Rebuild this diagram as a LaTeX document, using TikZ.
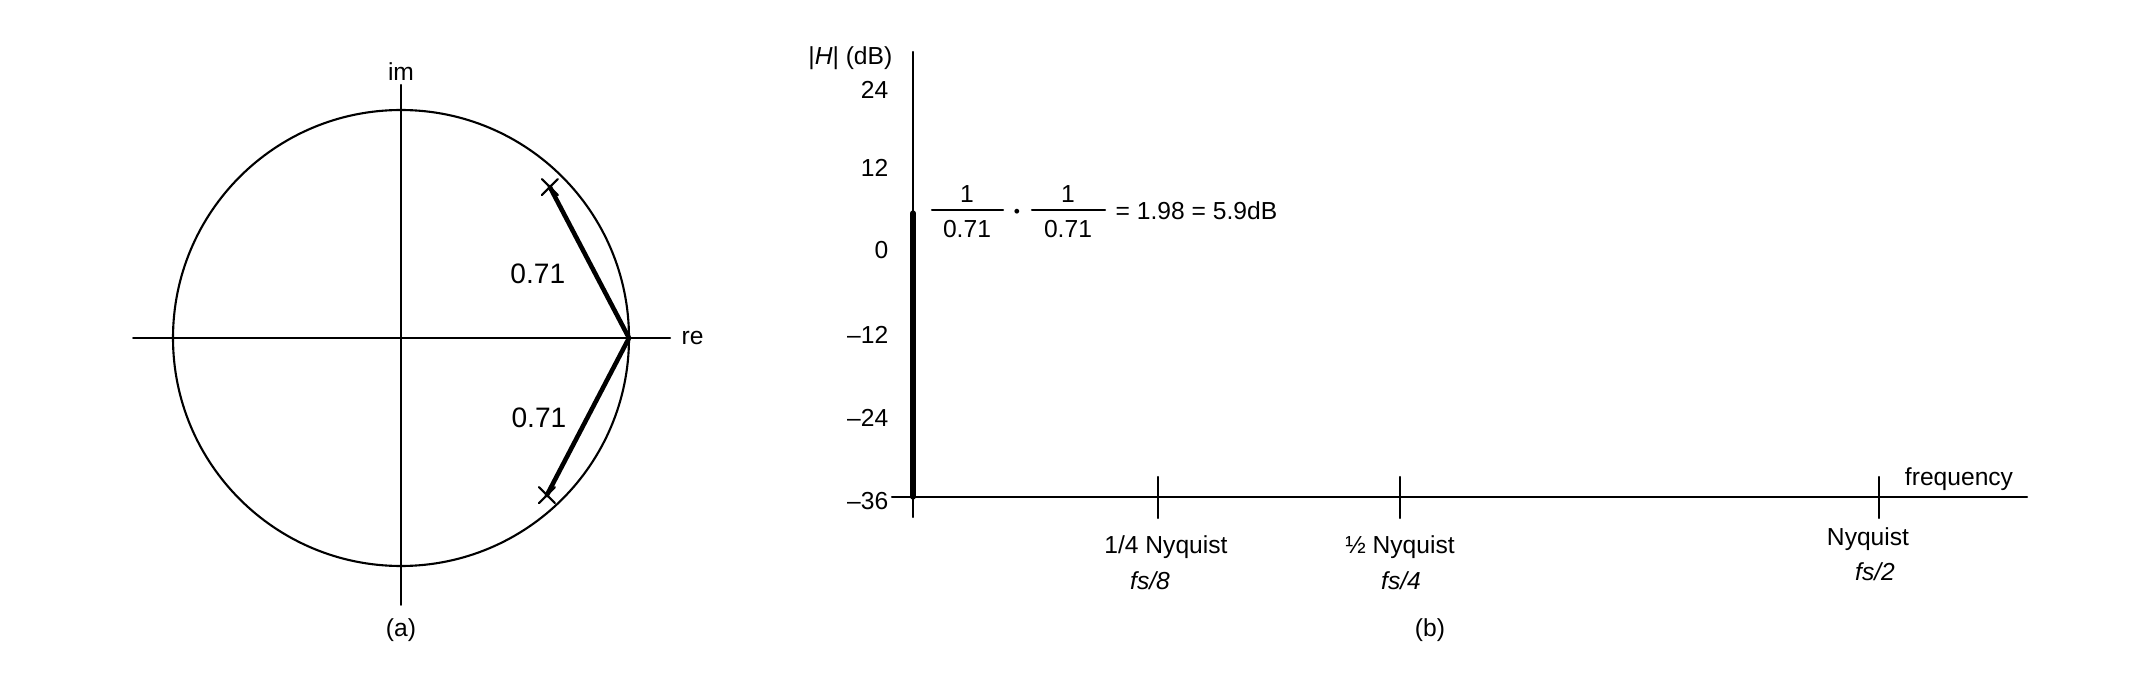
\documentclass[tikz,border=0pt]{standalone}
\usepackage{fontspec}
\setmainfont{Liberation Sans}
\begin{document}
\begin{tikzpicture}[line join=round, line cap=round, x=0.01cm, y=-0.01cm]
	\tikzset{every node/.style={font=\fontsize{7}{8}\selectfont, inner sep=0pt},
		axisline/.style={line width=0.6pt},
		heavy/.style={line width=1.3pt}}
	\useasboundingbox (0,0) rectangle (2154,688);
	% (a) z-plane
	\begin{scope}[shift={(401,338)}, xscale=228, yscale=-228]
		\draw[axisline] (0,0) circle (1);
		\draw[axisline] (-1.175,0) -- (1.18,0) node[right=3pt] (re) {re};
		\draw[axisline] (0,-1.17) -- (0,1.11) node[above=1pt] (im) {im};
		\coordinate (zero) at (1,0);
		\coordinate (pole1) at (0.653,0.662);
		\coordinate (pole2) at (0.64,-0.689);
		\node (len1) at (0.6,0.28) {\fontsize{8}{9}\selectfont 0.71};
		\node (len2) at (0.605,-0.35) {\fontsize{8}{9}\selectfont 0.71};
	\end{scope}
	\node[anchor=base] (capa) at (401,636) {(a)};
	\draw[heavy] (pole1) -- (zero) -- (pole2);
	\foreach \p in {pole1,pole2}
		\draw[axisline] (\p) ++(-8,-8) -- ++(16,16) (\p) ++(-8,8) -- ++(16,-16);
	% (b) magnitude response
	\draw[axisline] (913,517) -- (913,52);
	\draw[axisline] (892,497) -- (2027,497);
	\node[anchor=base east] (ylab) at (893,65) {\textbar\textit{H}\textbar{} (dB)};
	\foreach \v/\y [count=\i] in {--36/501,--24/418,--12/335,0/250,12/168,24/90}
		\node[anchor=east] (t\i) at (889,\y) {\v};
	\coordinate (base) at (913,497);
	\coordinate (peak) at (913,213);
	\draw[heavy, line width=1.5pt] (base) -- (peak);
	% gain of the two zeros
	\node[anchor=base] (num1) at (967,203) {1};
	\node[anchor=base] (den1) at (967,238) {0.71};
	\draw[axisline] (932,210) -- (1003,210);
	\node (dot) at (1017,213) {\fontsize{5}{5}\selectfont\textbullet};
	\node[anchor=base] (num2) at (1068,203) {1};
	\node[anchor=base] (den2) at (1068,238) {0.71};
	\draw[axisline] (1032,210) -- (1105,210);
	\node[anchor=base west] (gain) at (1115,220) {= 1.98 = 5.9dB};
	% frequency ticks
	\foreach \x in {1158,1400,1879}
		\draw[axisline] (\x,477) -- (\x,518);
	\node[anchor=base] (freq) at (1959,485) {frequency};
	\node[anchor=base] (q1) at (1166,553) {1/4 Nyquist};
	\node[anchor=base] (q2) at (1150,589) {\textit{fs/8}};
	\node[anchor=base] (h1) at (1400,553) {½ Nyquist};
	\node[anchor=base] (h2) at (1401,589) {\textit{fs/4}};
	\node[anchor=base] (n1) at (1868,545) {Nyquist};
	\node[anchor=base] (n2) at (1875,580) {\textit{fs/2}};
	\node[anchor=base] (capb) at (1430,636) {(b)};
\end{tikzpicture}
\end{document}
